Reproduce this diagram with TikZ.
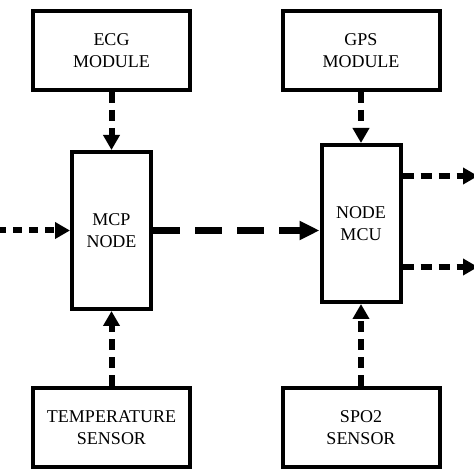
\documentclass[tikz,border=0pt]{standalone}
\usepackage{fontspec}
\setmainfont{Liberation Serif}
\usetikzlibrary{arrows.meta}
\usetikzlibrary{positioning}
\begin{document}
\begin{tikzpicture}[x=1pt,y=1pt,>={Triangle[length=15pt,width=16pt]},
    wide box/.style={rectangle,draw,line width=4pt,minimum width=157pt,minimum height=79pt,align=center,font=\fontsize{18}{22}\selectfont,inner sep=0pt},
    tall box/.style={rectangle,draw,line width=4pt,minimum width=79pt,minimum height=157pt,align=center,font=\fontsize{18}{22}\selectfont,inner sep=0pt},
    link/.style={->,line width=6pt,dash pattern=on 11pt off 7pt}]
   \useasboundingbox (0,0) rectangle (474,474);
   \begin{scope}
      \node[wide box] (ecg) at (111.5,423.5) {ECG\\MODULE};
      \node[tall box] (mcp) at (111.5,243.5) {MCP\\NODE};
      \node[wide box] (temp) at (111.5,46.5) {TEMPERATURE\\SENSOR};
      \node[wide box] (gps) at (361,423.5) {GPS\\MODULE};
      \node[tall box] (mcu) at (361,250.5) {NODE\\MCU};
      \node[wide box] (spo) at (361,46.5) {SPO2\\SENSOR};
      \coordinate (in) at (-3,243.5);
      \coordinate (out1) at (478,298);
      \coordinate (out2) at (478,207);
       \path[link] (ecg) edge (mcp);
       \path[link] (temp) edge (mcp);
       \path[link] (gps) edge (mcu);
       \path[link] (spo) edge (mcu);
       \path[link,dash pattern=on 9pt off 7pt] (in) edge (mcp.west);
       \path[link,line width=7pt,dash pattern=on 27pt off 15pt,>={Triangle[length=20pt,width=18pt]}] (mcp.east) edge (mcp.east -| mcu.west);
       \path[link] (mcu.east |- out1) edge (out1);
       \path[link] (mcu.east |- out2) edge (out2);
    \end{scope}
  \end{tikzpicture}
\end{document}
